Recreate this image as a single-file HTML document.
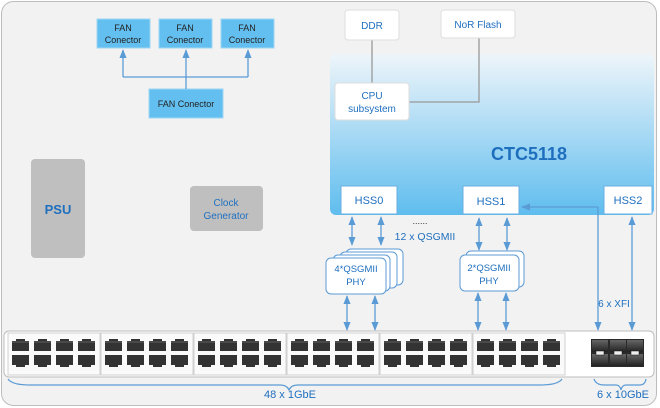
<!DOCTYPE html>
<html><head><meta charset="utf-8"><style>
html,body{margin:0;padding:0;background:#fff;}
svg{display:block;font-family:"Liberation Sans",sans-serif;}
</style></head><body>
<svg width="660" height="408" viewBox="0 0 660 408" xmlns="http://www.w3.org/2000/svg">
<defs>
<linearGradient id="g" x1="0" y1="0" x2="0" y2="1">
<stop offset="0" stop-color="#eef5fa"/><stop offset="1" stop-color="#5fbdee"/>
</linearGradient>
<linearGradient id="s" x1="0" y1="0" x2="0" y2="1">
<stop offset="0" stop-color="#666"/><stop offset="1" stop-color="#222"/>
</linearGradient>
<marker id="a" viewBox="0 0 10 10" refX="9" refY="5" markerWidth="7" markerHeight="7" orient="auto-start-reverse"><path d="M0,1 L10,5 L0,9 z" fill="#5b9bd5"/></marker>
<g id="pt"><path d="M4,0 H13 V2 H17 V12 H0 V2 H4 z" fill="#333"/><rect x="0" y="2" width="17" height="2" fill="#4a4a4a"/></g>
<g id="pb"><path d="M0,0 H17 V10 H13 V12 H4 V10 H0 z" fill="#333"/></g>
<g id="grp">
<rect x="0" y="0" width="92" height="42" fill="#fafafa" stroke="#d0d0d0"/>
<use href="#pt" x="4" y="6"/><use href="#pt" x="26" y="6"/><use href="#pt" x="48" y="6"/><use href="#pt" x="70" y="6"/>
<use href="#pb" x="4" y="22"/><use href="#pb" x="26" y="22"/><use href="#pb" x="48" y="22"/><use href="#pb" x="70" y="22"/>
</g>
</defs>
<rect x="1.5" y="1.5" width="655" height="404" rx="12" fill="#f2f2f2" stroke="#bdbdbd"/>

<!-- FAN -->
<g fill="#63bfef" stroke="#9fd6f3">
<rect x="97" y="19" width="53" height="29"/><rect x="159" y="19" width="53" height="29"/><rect x="221" y="19" width="53" height="29"/>
<rect x="149" y="89" width="74" height="29"/>
</g>
<g fill="#222" font-size="9" text-anchor="middle">
<text x="123" y="31">FAN</text><text x="123" y="43">Conector</text>
<text x="185" y="31">FAN</text><text x="185" y="43">Conector</text>
<text x="247" y="31">FAN</text><text x="247" y="43">Conector</text>
<text x="186" y="107">FAN Conector</text>
</g>
<g stroke="#5b9bd5" stroke-width="1.3" fill="none">
<path d="M123,77 H248"/><path d="M123,77 V50" marker-end="url(#a)"/><path d="M248,77 V50" marker-end="url(#a)"/><path d="M186,89 V50" marker-end="url(#a)"/>
</g>

<!-- PSU / clock -->
<rect x="31" y="159" width="54" height="99" rx="4" fill="#bfbfbf"/>
<text x="58" y="214" font-size="13" font-weight="bold" fill="#1f6fbf" text-anchor="middle">PSU</text>
<rect x="190" y="186" width="73" height="45" rx="4" fill="#bfbfbf"/>
<text x="226" y="206" font-size="10" fill="#1f6fbf" text-anchor="middle">Clock</text>
<text x="226" y="219" font-size="10" fill="#1f6fbf" text-anchor="middle">Generator</text>

<!-- CTC -->
<rect x="330" y="54" width="324" height="161" rx="6" fill="url(#g)"/>
<g stroke="#999" stroke-width="1.3" fill="none"><path d="M372,40 V84"/><path d="M479,38 V102 H409"/></g>
<g fill="#fff" stroke="#ddd">
<rect x="345" y="10" width="54" height="30" rx="3"/><rect x="441" y="10" width="74" height="28" rx="3"/>
<rect x="335" y="83" width="74" height="37" rx="3"/>
</g>
<g fill="#1f6fbf" font-size="10" text-anchor="middle">
<text x="372" y="29">DDR</text><text x="478" y="28">NoR Flash</text>
<text x="372" y="99">CPU</text><text x="372" y="112">subsystem</text>
</g>
<text x="529" y="160" font-size="18" font-weight="bold" fill="#1f6fbf" text-anchor="middle">CTC5118</text>
<g fill="#fff" stroke="#6aaee0">
<rect x="341" y="186" width="56" height="28"/><rect x="463" y="186" width="56" height="28"/><rect x="604" y="186" width="48" height="28"/>
</g>
<g fill="#1f6fbf" font-size="11" text-anchor="middle">
<text x="369" y="204">HSS0</text><text x="491" y="205">HSS1</text><text x="628" y="204">HSS2</text>
</g>

<!-- arrows -->
<g stroke="#5b9bd5" stroke-width="1.3" fill="none" marker-start="url(#a)" marker-end="url(#a)">
<path d="M352,217 V245"/><path d="M381,217 V245"/>
<path d="M479,218 V250"/><path d="M507,218 V250"/>
<path d="M347,296 V330"/><path d="M375,296 V330"/>
<path d="M478,293 V330"/><path d="M506,293 V330"/>
<path d="M632,217 V330"/>
</g>
<path d="M598,207 H522" stroke="#5b9bd5" stroke-width="1.3" fill="none" marker-end="url(#a)"/>
<path d="M598,207 V330" stroke="#5b9bd5" stroke-width="1.3" fill="none" marker-end="url(#a)"/>

<!-- PHY -->
<g fill="#fff" stroke="#5b9bd5">
<rect x="346" y="249" width="57" height="36" rx="5"/>
<rect x="340" y="252" width="57" height="36" rx="5"/>
<rect x="333" y="255" width="57" height="36" rx="5"/>
<rect x="326" y="258" width="60" height="36" rx="5"/>
<rect x="466" y="251" width="58" height="36" rx="5"/>
<rect x="460" y="255" width="59" height="36" rx="5"/>
</g>
<g fill="#1f6fbf" font-size="9.5" text-anchor="middle">
<text x="356" y="272">4*QSGMII</text><text x="356" y="285">PHY</text>
<text x="489" y="271">2*QSGMII</text><text x="489" y="284">PHY</text>
<text x="425" y="240" font-size="10.5">12 x QSGMII</text>
<text x="420" y="224" fill="#333" font-size="9">......</text>
<text x="614" y="307" font-size="10">6 x XFI</text>
</g>

<!-- ports -->
<rect x="4" y="331" width="650" height="46" rx="5" fill="#fff" stroke="#bdbdbd"/>
<use href="#grp" x="8" y="333"/><use href="#grp" x="101" y="333"/><use href="#grp" x="194" y="333"/>
<use href="#grp" x="287" y="333"/><use href="#grp" x="380" y="333"/><use href="#grp" x="473" y="333"/>
<g>
<rect x="591" y="339" width="53" height="28" fill="#2a2a2a"/>
<rect x="592" y="340" width="16" height="12" fill="url(#s)"/><rect x="610" y="340" width="16" height="12" fill="url(#s)"/><rect x="627" y="340" width="16" height="12" fill="url(#s)"/>
<rect x="592" y="354" width="16" height="12" fill="url(#s)"/><rect x="610" y="354" width="16" height="12" fill="url(#s)"/><rect x="627" y="354" width="16" height="12" fill="url(#s)"/>
<rect x="596" y="351" width="8" height="4" fill="#eee" stroke="#111" stroke-width="0.5"/><rect x="614" y="351" width="8" height="4" fill="#eee" stroke="#111" stroke-width="0.5"/><rect x="631" y="351" width="8" height="4" fill="#eee" stroke="#111" stroke-width="0.5"/>
</g>
<g stroke="#5b9bd5" stroke-width="1.2" fill="none">
<path d="M8,379 Q12,385 30,385 H280 Q287,385 289,390 Q291,385 298,385 H540 Q558,385 562,379"/>
<path d="M594,379 Q596,385 604,385 H616 Q620,385 621,390 Q622,385 626,385 H640 Q645,385 646,379"/>
</g>
<text x="290" y="398" font-size="11" fill="#1f6fbf" text-anchor="middle">48 x 1GbE</text>
<text x="623" y="398" font-size="11" fill="#1f6fbf" text-anchor="middle">6 x 10GbE</text>
</svg>
</body></html>
